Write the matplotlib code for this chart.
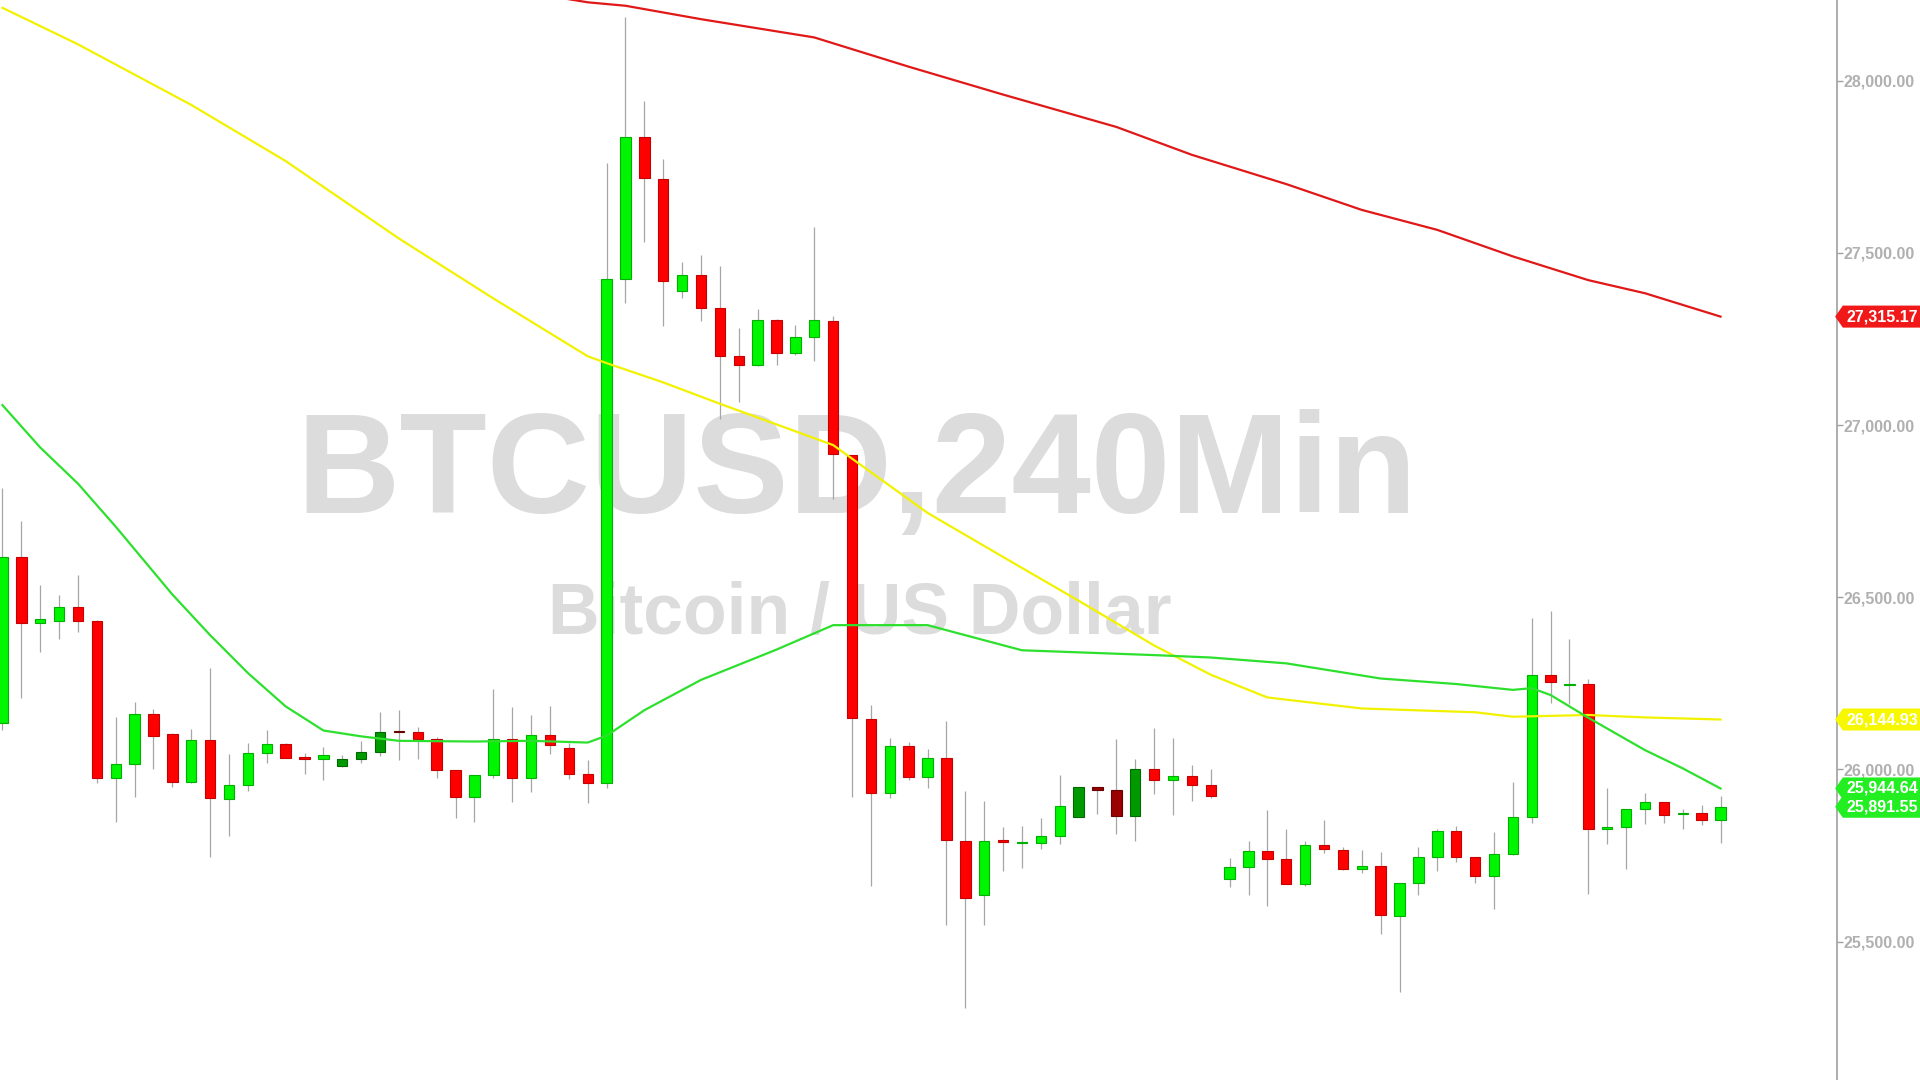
import matplotlib
matplotlib.use("Agg")
import matplotlib.pyplot as plt
import numpy as np
from matplotlib.path import Path

# 240 min candles (oldest first)
opens = [26136, 26616, 26426, 26432, 26473, 26431, 25976, 26015, 26160, 26102,
         25963, 26085, 25915, 25954, 26048, 26073, 26036, 26031, 26009, 26029,
         26050, 26111, 26109, 26089, 25997, 25919, 25984, 26087, 25974, 26099,
         26063, 25986, 25960, 27423, 27838, 27715, 27389, 27435, 27339, 27202,
         27174, 27304, 27209, 27255, 27302, 26914, 26147, 25932, 26068, 25977,
         26032, 25791, 25634, 25795, 25786, 25787, 25807, 25862, 25949, 25939,
         25866, 26002, 25969, 25980, 25955, 25683, 25716, 25762, 25739, 25668,
         25780, 25766, 25710, 25719, 25574, 25671, 25747, 25822, 25747, 25690,
         25755, 25861, 26273, 26246, 26247, 25826, 25832, 25884, 25905, 25871,
         25872, 25854]
highs = [26816, 26722, 26536, 26508, 26565, 26434, 26153, 26195, 26176, 26107,
         26116, 26294, 26045, 26078, 26114, 26076, 26049, 26066, 26042, 26083,
         26168, 26173, 26124, 26093, 25997, 25984, 26233, 26180, 26157, 26185,
         26078, 26027, 27760, 28184, 27941, 27773, 27473, 27495, 27463, 27282,
         27336, 27308, 27291, 27576, 27317, 26914, 26186, 26090, 26081, 26058,
         26140, 25938, 25908, 25832, 25836, 25858, 25983, 25950, 25949, 26088,
         26031, 26120, 26092, 26013, 26001, 25742, 25792, 25881, 25826, 25792,
         25853, 25776, 25766, 25761, 25671, 25774, 25826, 25837, 25747, 25819,
         25964, 26439, 26460, 26378, 26262, 25945, 25884, 25932, 25905, 25884,
         25897, 25923]
lows = [26114, 26206, 26340, 26379, 26400, 25960, 25848, 25921, 26000, 25950,
        25960, 25747, 25808, 25938, 26020, 26032, 25987, 25969, 26008, 26018,
        26039, 26027, 26029, 25976, 25860, 25848, 25974, 25904, 25933, 26046,
        25971, 25901, 25945, 27354, 27533, 27289, 27370, 27303, 27017, 27068,
        27173, 27175, 27204, 27186, 26784, 25921, 25661, 25917, 25969, 25946,
        25547, 25307, 25547, 25706, 25714, 25768, 25784, 25862, 25871, 25812,
        25791, 25928, 25869, 25907, 25918, 25659, 25635, 25603, 25668, 25661,
        25756, 25708, 25700, 25521, 25354, 25635, 25706, 25732, 25671, 25594,
        25751, 25843, 26192, 26190, 25638, 25782, 25710, 25840, 25843, 25826,
        25839, 25787]
closes = [26618, 26426, 26436, 26471, 26431, 25976, 26015, 26160, 26096, 25963,
          26085, 25916, 25954, 26048, 26073, 26034, 26031, 26043, 26029, 26050,
          26110, 26109, 26089, 25997, 25919, 25984, 26087, 25976, 26099, 26070,
          25986, 25960, 27423, 27838, 27717, 27419, 27435, 27339, 27202, 27174,
          27304, 27209, 27255, 27304, 26917, 26150, 25932, 26068, 25977, 26032,
          25794, 25627, 25791, 25788, 25788, 25807, 25895, 25950, 25939, 25866,
          26002, 25969, 25980, 25955, 25924, 25716, 25762, 25739, 25668, 25780,
          25768, 25710, 25719, 25576, 25671, 25745, 25820, 25747, 25690, 25755,
          25861, 26273, 26253, 26248, 25826, 25832, 25884, 25905, 25869, 25872,
          25854, 25891.55]
# candles drawn in the darker shade
dark_idx = [18, 19, 20, 21, 57, 58, 59, 60]

# moving averages (candle index, value)
ma_red_idx = [30, 31, 33, 37, 43, 44, 48, 53, 59, 63, 68, 72, 76, 80, 84, 87, 91]
ma_red_val = [28237, 28228, 28218, 28179, 28126, 28109, 28041, 27960, 27866,
              27785, 27700, 27625, 27567, 27490, 27421, 27383, 27315.17]
ma_yel_idx = [0, 4, 7, 10, 15, 21, 26, 31, 32, 35, 38, 44, 49, 53, 57, 61, 64,
              67, 72, 78, 80, 84, 87, 91]
ma_yel_val = [28212, 28106, 28018, 27930, 27767, 27542, 27368, 27200, 27180,
              27124, 27062, 26942, 26745, 26617, 26490, 26360, 26275, 26209,
              26177, 26166, 26153, 26158, 26151, 26144.93]
ma_grn_idx = [0, 2, 4, 6, 9, 11, 13, 15, 17, 19, 21, 25, 28, 31, 32, 34, 37, 41,
              44, 49, 54, 61, 64, 68, 73, 77, 80, 81, 82, 84, 87, 89, 91]
ma_grn_val = [27058, 26935, 26830, 26705, 26508, 26390, 26280, 26183, 26113,
              26096, 26083, 26081, 26083, 26078, 26098, 26172, 26260, 26348,
              26419, 26419, 26346, 26332, 26325, 26308, 26264, 26248, 26231,
              26236, 26216, 26150, 26056, 26003, 25944.64]

price_ticks = [25500, 26000, 26500, 27000, 27500, 28000]
tags = [(27315.17, '#f01818'), (26144.93, '#f7f700'),
        (25944.64, '#22ee22'), (25891.55, '#22ee22')]

plt.rcParams['font.family'] = ['Liberation Sans', 'DejaVu Sans']

fig = plt.figure(figsize=(19.2, 10.8), dpi=100)
fig.patch.set_facecolor('white')
ax = fig.add_axes([0, 0, 1837 / 1920, 1])
ax.set_facecolor('white')

# watermark
ax.text(0.4464, 0.525, "BTCUSD,240Min", transform=fig.transFigure,
        ha='center', va='baseline', fontsize=103, fontweight='bold',
        color='#dcdcdc', zorder=0.5)
ax.text(0.448, 0.413, "Bitcoin / US Dollar", transform=fig.transFigure,
        ha='center', va='baseline', fontsize=51.5, fontweight='bold',
        color='#dcdcdc', zorder=0.5)

o = np.array(opens, dtype=float)
h = np.array(highs, dtype=float)
l = np.array(lows, dtype=float)
c = np.array(closes, dtype=float)
x = np.arange(len(o))
up = c >= o
dark = np.isin(x, dark_idx)

body_col = np.where(up, np.where(dark, '#009a00', '#00f500'),
                    np.where(dark, '#9a0000', '#ff0000'))
edge_col = np.where(up, np.where(dark, '#006800', '#00b000'),
                    np.where(dark, '#680000', '#c40000'))

ax.vlines(x, l, h, color='#a6a6a6', lw=0.9, zorder=2)
ax.bar(x, np.abs(c - o), bottom=np.minimum(o, c), width=0.55,
       color=body_col, edgecolor=edge_col, linewidth=0.8, zorder=3)

ax.plot(ma_red_idx, ma_red_val, color='#e01818', lw=1.6, zorder=4)
ax.plot(ma_yel_idx, ma_yel_val, color='#f2f200', lw=1.6, zorder=4)
ax.plot(ma_grn_idx, ma_grn_val, color='#2ee02e', lw=1.6, zorder=4)

ax.set_xlim(-0.13, 97.17)
ax.set_ylim(25097.9, 28234.7)

ax.yaxis.tick_right()
ax.set_yticks(price_ticks)
ax.set_yticklabels([f"{v:,.2f}" for v in price_ticks])
for lbl in ax.get_yticklabels():
    lbl.set_fontweight('bold')
ax.tick_params(axis='y', direction='out', length=4, width=1, color='#a0a0a0',
               labelcolor='#b0b0b0', labelsize=11.5, pad=1)
ax.tick_params(axis='x', bottom=False, labelbottom=False)
for side in ['left', 'top', 'bottom']:
    ax.spines[side].set_visible(False)
ax.spines['right'].set_color('#a0a0a0')
ax.spines['right'].set_linewidth(1.2)


def tag_shape(x0, y0, width, height, mutation_size):
    pad = 0.2 * mutation_size
    top = y0 + height + pad * 1.1
    bot = y0 - pad * 1.1
    left = x0 - pad
    tip = left - (top - bot) * 0.35
    verts = [(tip, (top + bot) / 2), (left, bot), (x0 + width + 200, bot),
             (x0 + width + 200, top), (left, top), (tip, (top + bot) / 2)]
    return Path(verts, closed=True)


for val, col in tags:
    ax.annotate(f"{val:,.2f}", xy=(1, val), xycoords=('axes fraction', 'data'),
                xytext=(6.5, 0), textcoords='offset points', ha='left',
                va='center', color='white', fontsize=11.5, fontweight='bold',
                bbox=dict(boxstyle=tag_shape, fc=col, ec=col, lw=0),
                annotation_clip=False, zorder=6)

fig.savefig("out.png", dpi=100, facecolor='white')
